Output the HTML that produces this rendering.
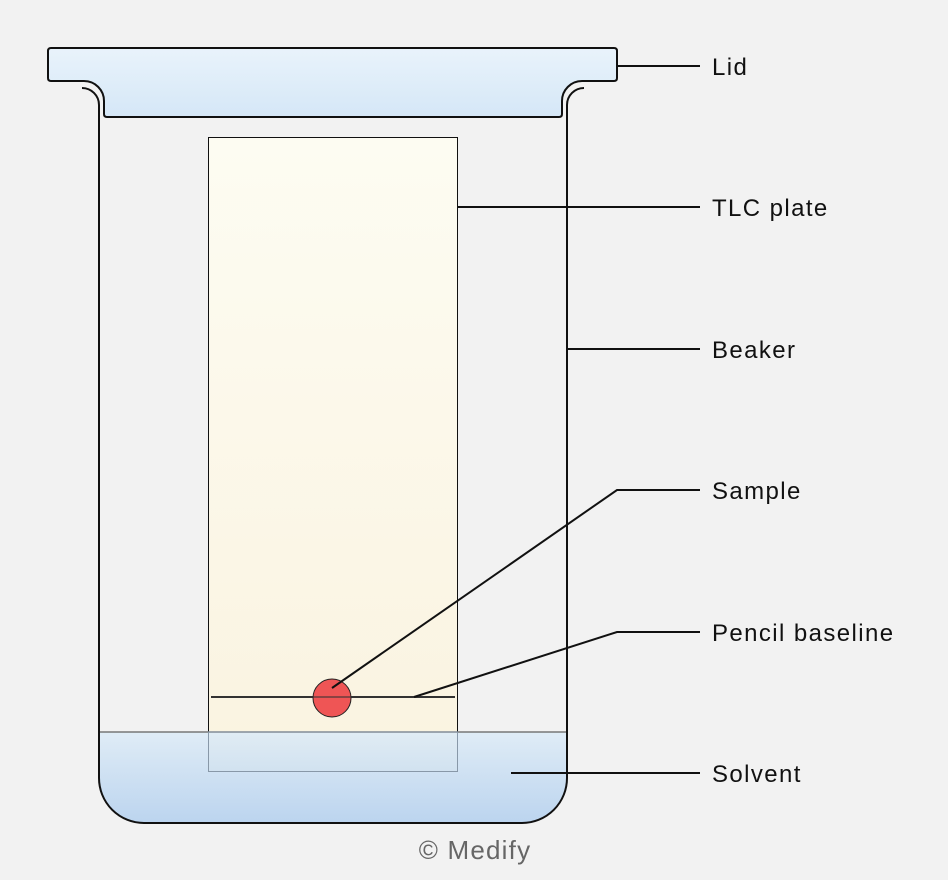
<!DOCTYPE html>
<html><head><style>body{margin:0;background:#f2f2f2}svg{display:block}</style></head><body>
<svg width="948" height="880" viewBox="0 0 948 880" xmlns="http://www.w3.org/2000/svg">
<defs>
<linearGradient id="lid" x1="0" y1="0" x2="0" y2="1"><stop offset="0" stop-color="#e9f3fb"/><stop offset="1" stop-color="#d5e7f7"/></linearGradient>
<linearGradient id="plate" x1="0" y1="0" x2="0" y2="1"><stop offset="0" stop-color="#fdfcf2"/><stop offset="1" stop-color="#faf3e0"/></linearGradient>
<linearGradient id="sol" x1="0" y1="0" x2="0" y2="1"><stop offset="0" stop-color="#dcebf7"/><stop offset="1" stop-color="#b2cfee"/></linearGradient>
</defs>
<rect width="948" height="880" fill="#f2f2f2"/>
<rect x="208.5" y="137.5" width="249" height="634" fill="url(#plate)" stroke="#111" stroke-width="1"/>
<path d="M99,732 H567 V778 A45,45 0 0 1 522,823 H144 A45,45 0 0 1 99,778 Z" fill="url(#sol)" opacity="0.85"/>
<line x1="99" y1="732" x2="567" y2="732" stroke="#777" stroke-width="1.5"/>
<rect x="208.5" y="732" width="249" height="39.5" fill="none" stroke="#8898a8" stroke-width="1"/>
<path d="M82,88 A17,17 0 0 1 99,105 V778 A45,45 0 0 0 144,823 H522 A45,45 0 0 0 567,778 V105 A17,17 0 0 1 584,88" fill="none" stroke="#111" stroke-width="2"/>
<path d="M48,51 Q48,48 51,48 H614 Q617,48 617,51 V78 Q617,81 614,81 H582 A20,20 0 0 0 562,101 V114 Q562,117 559,117 H107 Q104,117 104,114 V101 A20,20 0 0 0 84,81 H51 Q48,81 48,78 Z" fill="url(#lid)" stroke="#111" stroke-width="2"/>
<line x1="211" y1="697" x2="455" y2="697" stroke="#333" stroke-width="2"/>
<circle cx="332" cy="698" r="19" fill="#ef5555" stroke="#222" stroke-width="1"/>
<line x1="211" y1="697" x2="455" y2="697" stroke="#333" stroke-width="1.5" opacity="0.7"/>
<g stroke="#111" stroke-width="2" fill="none">
<line x1="617" y1="66" x2="700" y2="66"/>
<line x1="457" y1="207" x2="700" y2="207"/>
<line x1="567" y1="349" x2="700" y2="349"/>
<polyline points="332,688 617,490 700,490"/>
<polyline points="414,697 617,632 700,632"/>
<line x1="511" y1="773" x2="700" y2="773"/>
</g>
<g font-family="Liberation Sans, sans-serif" font-size="24" letter-spacing="1.4" fill="#111">
<text x="712" y="75">Lid</text>
<text x="712" y="216">TLC plate</text>
<text x="712" y="358">Beaker</text>
<text x="712" y="499">Sample</text>
<text x="712" y="641">Pencil baseline</text>
<text x="712" y="782">Solvent</text>
</g>
<text x="475" y="859" text-anchor="middle" font-family="Liberation Sans, sans-serif" font-size="26" letter-spacing="1.2" fill="#666">© Medify</text>
</svg>
</body></html>
